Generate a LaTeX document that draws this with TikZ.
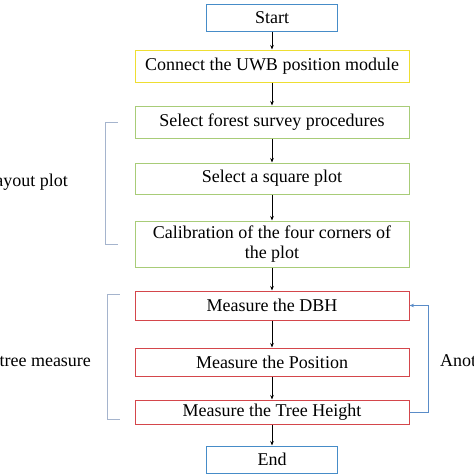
\documentclass[tikz,border=0pt]{standalone}
\usepackage{fontspec}
\setmainfont{Liberation Serif}
\usepackage{xcolor}
\usetikzlibrary{arrows.meta, positioning, calc}
\definecolor{endblue}{RGB}{70,140,200}
\definecolor{uwbyellow}{RGB}{238,222,50}
\definecolor{plotgreen}{RGB}{168,204,120}
\definecolor{treered}{RGB}{212,70,75}
\definecolor{loopblue}{RGB}{90,140,200}
\definecolor{bracegray}{RGB}{165,180,205}
\tikzstyle{arrow} = [->, >={Stealth[length=4.5pt, width=3.5pt]}, line width=0.6pt]
\tikzstyle{box} = [draw, rectangle, fill=white, line width=1pt, minimum width=274pt, minimum height=30pt, inner sep=2pt, font=\fontsize{18}{20}\selectfont]

\begin{document}
\begin{tikzpicture}[node distance=23pt, align=center]
\clip (0,0) rectangle (474pt,-474pt);
\useasboundingbox (0,0) rectangle (474pt,-474pt);
% Steps
\node (start) [box, draw=endblue, minimum width=131pt, minimum height=27pt] at (272pt,-17.5pt) {Start};
\node (uwb) [box, draw=uwbyellow, minimum height=32pt, below=18pt of start] {Connect the UWB position module};
\node (survey) [box, draw=plotgreen, minimum height=32pt, below=of uwb] {Select forest survey procedures};
\node (square) [box, draw=plotgreen, minimum height=31pt, below=24pt of survey] {Select a square plot};
\node (corners) [box, draw=plotgreen, minimum height=46pt, below=26pt of square] {Calibration of the four corners of\\the plot};
\node (dbh) [box, draw=treered, minimum height=29pt, below=of corners] {Measure the DBH};
\node (pos) [box, draw=treered, minimum height=28pt, below=27pt of dbh] {Measure the Position};
\node (height) [box, draw=treered, minimum height=24pt, below=of pos] {Measure the Tree Height};
\node (end) [box, draw=endblue, minimum width=131pt, minimum height=27pt, below=21pt of height] {End};

% Flow
\foreach \a/\b in {start/uwb, uwb/survey, survey/square, square/corners, corners/dbh, dbh/pos, pos/height, height/end}
    \draw [arrow] (\a) -- (\b);

% Loop back for the next tree
\draw [arrow, loopblue] (height.east) -- ++(19pt,0) coordinate (loop) |- (dbh.east);

% Brackets
\coordinate (laytop) at ($(survey.west)+(-17pt,0)$);
\coordinate (laybot) at ($(corners.west)+(-17pt,0)$);
\draw [bracegray, line width=0.6pt] (laytop) -- ++(-12pt,0) coordinate (layleft) |- (laybot);
\coordinate (treetop) at ($(dbh.north west)+(-15pt,-4pt)$);
\coordinate (treebot) at ($(height.south west)+(-15pt,5pt)$);
\draw [bracegray, line width=0.6pt] (treetop) -- ++(-12pt,0) coordinate (treeleft) |- (treebot);

% Labels
\node (laylabel) [anchor=east, font=\fontsize{18}{20}\selectfont] at ($(layleft)!0.5!(layleft|-laybot)+(-34pt,1pt)$) {Layout plot};
\node (treelabel) [anchor=east, font=\fontsize{18}{20}\selectfont] at ($(treeleft)!0.5!(treeleft|-treebot)+(-13pt,-5pt)$) {tree measure};
\node (nextlabel) [anchor=west, font=\fontsize{18}{20}\selectfont] at ($(loop)+(8pt,52pt)$) {Another};
\end{tikzpicture}
\end{document}
